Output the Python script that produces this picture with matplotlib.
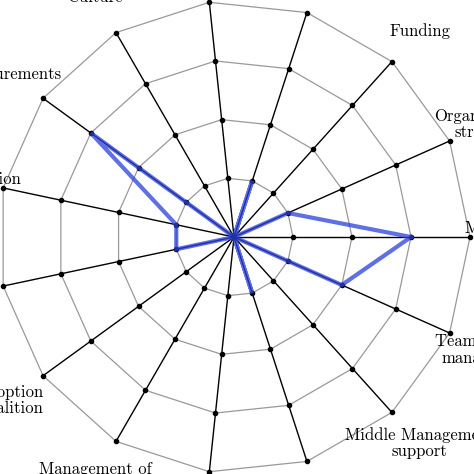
import numpy as np
import matplotlib.pyplot as plt

labels = ["Management\nsystems", "Organizational\nstructure", "Funding", "Vision",
          "Leadership", "Culture", "Measurements", "Communication", "Training",
          "Adoption\nCoalition", "Management of\nchange", "Resources", "Tools",
          "Middle Management\nsupport", "Team member\nmanagement"]
values = [3, 1, 0, 1, 0, 0, 3, 1, 1, 0, 0, 0, 1, 0, 2]
levels = [1, 2, 3, 4]

n = len(labels)
ang = np.deg2rad(np.arange(n) * 360 / n)

fig = plt.figure(figsize=(4.74, 4.74), dpi=100)
ax = fig.add_axes([0, 0, 1, 1])
scale = 59.0
ax.set_xlim(-234 / scale, (474 - 234) / scale)
ax.set_ylim(-(474 - 237) / scale, 237 / scale)
ax.set_aspect('equal')
ax.axis('off')

# rings
for r in levels:
    xs = np.append(r * np.cos(ang), r * np.cos(ang[0]))
    ys = np.append(r * np.sin(ang), r * np.sin(ang[0]))
    ax.plot(xs, ys, color='#999999', lw=0.9, zorder=1)

# spokes and dots
for a in ang:
    ax.plot([0, 4 * np.cos(a)], [0, 4 * np.sin(a)], color='black', lw=1.0, zorder=2)
    ax.scatter([r * np.cos(a) for r in levels], [r * np.sin(a) for r in levels],
               s=9, color='black', zorder=3)

# data polygon
v = np.array(values + values[:1], dtype=float)
a2 = np.append(ang, ang[0])
ax.plot(v * np.cos(a2), v * np.sin(a2), color='#2a3fdc', alpha=0.75, lw=3, zorder=4,
        solid_joinstyle='miter')

for a, lab in zip(ang, labels):
    ax.text(4.7 * np.cos(a), 4.7 * np.sin(a), lab, ha='center', va='center',
            family='cmr10', fontsize=12, linespacing=1.1, clip_on=False)

fig.savefig('out.png', dpi=100)
